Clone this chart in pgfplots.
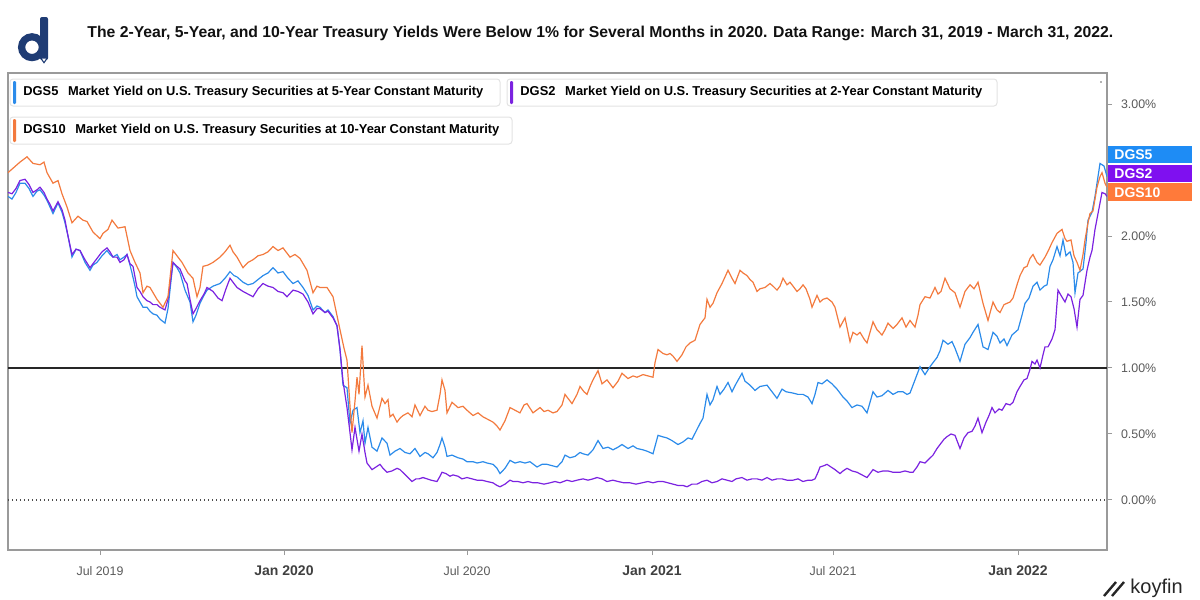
\documentclass[border=0pt]{standalone}
\usepackage{pgfplots}
\pgfplotsset{compat=1.18}
\usepackage{fontspec}
\setmainfont{Liberation Sans}
\usepackage{graphicx}

\definecolor{cblue}{HTML}{2B8BEA}
\definecolor{cpurple}{HTML}{7B22E0}
\definecolor{corange}{HTML}{F37A3E}
\definecolor{bblue}{HTML}{1E8CF5}
\definecolor{bpurple}{HTML}{7F10F0}
\definecolor{borange}{HTML}{FF7A3A}
\definecolor{navy}{HTML}{1F3C74}
\definecolor{axisgray}{HTML}{9A9A9A}
\definecolor{labelgray}{HTML}{5A5A5A}
\definecolor{boldgray}{HTML}{404040}
\definecolor{legendgray}{HTML}{E3E3E3}
\definecolor{titleblack}{HTML}{111111}

% x = days from 2019-03-31, y = yield in %
\pgfplotstableread{
x y
0 2.30
4 2.28
8 2.33
12 2.40
17 2.40
21 2.36
25 2.30
29 2.34
32 2.35
36 2.31
39 2.27
42 2.22
45 2.17
50 2.25
54 2.18
57 2.10
60 2.00
64 1.84
68 1.90
72 1.89
77 1.80
82 1.74
85 1.78
89 1.80
94 1.85
99 1.89
102 1.86
105 1.84
109 1.86
112 1.82
116 1.84
119 1.86
122 1.78
124 1.72
127 1.62
129 1.54
132 1.50
135 1.46
139 1.46
142 1.43
145 1.41
149 1.40
152 1.37
157 1.34
160 1.45
165 1.80
169 1.76
172 1.72
177 1.59
182 1.50
185 1.35
188 1.40
192 1.49
196 1.55
199 1.59
205 1.62
212 1.64
217 1.68
222 1.73
226 1.70
229 1.69
235 1.65
240 1.63
245 1.64
250 1.67
255 1.70
260 1.72
265 1.76
270 1.72
275 1.73
280 1.68
285 1.64
290 1.66
295 1.61
300 1.55
305 1.44
309 1.47
312 1.46
317 1.42
320 1.44
325 1.39
329 1.32
332 1.14
335 0.87
339 0.85
342 0.58
345 0.68
349 0.70
352 0.51
355 0.60
357 0.43
360 0.55
364 0.40
369 0.37
374 0.47
379 0.43
382 0.34
387 0.37
392 0.39
397 0.36
402 0.35
407 0.39
412 0.33
417 0.36
420 0.35
425 0.32
429 0.36
432 0.42
434 0.47
437 0.40
439 0.33
444 0.34
450 0.32
455 0.31
459 0.29
465 0.29
469 0.28
475 0.29
479 0.28
485 0.27
489 0.24
492 0.20
497 0.24
502 0.30
507 0.28
512 0.29
517 0.28
522 0.29
529 0.25
534 0.27
539 0.27
544 0.26
549 0.25
554 0.29
557 0.34
562 0.32
567 0.33
572 0.36
575 0.35
580 0.34
585 0.38
590 0.45
595 0.39
600 0.40
605 0.38
610 0.40
614 0.42
620 0.39
625 0.41
629 0.39
635 0.38
639 0.37
645 0.35
650 0.49
654 0.48
659 0.47
664 0.45
670 0.42
675 0.44
680 0.47
684 0.46
688 0.52
692 0.58
695 0.62
699 0.80
702 0.72
705 0.76
709 0.86
712 0.80
716 0.84
720 0.89
724 0.82
728 0.88
734 0.96
737 0.90
742 0.87
747 0.83
752 0.86
759 0.87
764 0.82
769 0.77
774 0.84
778 0.82
785 0.81
790 0.80
795 0.80
800 0.78
804 0.73
807 0.80
810 0.89
814 0.88
819 0.91
824 0.88
829 0.84
835 0.78
839 0.75
844 0.70
849 0.72
854 0.71
859 0.66
862 0.74
865 0.82
869 0.78
874 0.79
880 0.83
885 0.80
890 0.82
895 0.82
899 0.80
902 0.81
907 0.91
912 1.01
917 0.95
922 1.01
929 1.08
932 1.13
935 1.21
940 1.18
944 1.20
947 1.15
952 1.05
957 1.18
962 1.23
965 1.27
970 1.33
975 1.16
980 1.14
985 1.27
989 1.24
992 1.19
996 1.22
999 1.17
1004 1.25
1010 1.29
1014 1.40
1017 1.49
1021 1.53
1025 1.62
1029 1.65
1032 1.59
1036 1.62
1039 1.63
1042 1.77
1045 1.82
1049 1.92
1052 1.85
1055 1.97
1058 1.85
1062 1.88
1065 1.80
1067 1.57
1070 1.72
1075 1.75
1078 1.95
1080 2.12
1084 2.18
1087 2.30
1090 2.45
1092 2.55
1096 2.53
1099 2.45
}\dgsfive

\pgfplotstableread{
x y
0 2.33
4 2.32
8 2.36
12 2.42
17 2.43
21 2.39
25 2.33
29 2.35
32 2.37
36 2.33
39 2.28
42 2.24
45 2.19
50 2.26
54 2.20
57 2.12
60 2.00
64 1.86
68 1.90
72 1.89
77 1.82
82 1.76
85 1.79
89 1.83
94 1.88
99 1.91
102 1.88
105 1.84
109 1.84
112 1.80
116 1.82
119 1.86
122 1.79
125 1.77
129 1.61
132 1.58
135 1.54
139 1.51
142 1.50
145 1.48
149 1.48
152 1.46
157 1.44
160 1.52
165 1.80
169 1.77
172 1.75
177 1.66
179 1.64
182 1.52
185 1.41
188 1.45
192 1.51
196 1.56
199 1.61
205 1.58
210 1.53
214 1.51
218 1.60
222 1.68
226 1.64
229 1.61
235 1.58
240 1.56
245 1.54
250 1.60
255 1.64
260 1.62
265 1.61
270 1.58
275 1.57
279 1.54
285 1.59
290 1.58
295 1.56
300 1.50
305 1.41
309 1.45
312 1.45
317 1.42
320 1.43
325 1.38
329 1.32
332 1.14
335 0.90
339 0.70
342 0.51
344 0.38
347 0.55
351 0.37
354 0.50
357 0.36
359 0.28
364 0.23
368 0.25
372 0.27
375 0.24
379 0.21
384 0.22
389 0.24
392 0.23
396 0.20
400 0.17
404 0.14
408 0.16
411 0.16
415 0.17
419 0.16
423 0.15
429 0.14
432 0.18
434 0.21
438 0.20
442 0.18
445 0.19
450 0.18
454 0.16
459 0.17
464 0.16
469 0.15
474 0.15
479 0.14
485 0.13
489 0.11
492 0.10
497 0.12
502 0.15
505 0.14
510 0.14
515 0.13
520 0.14
525 0.13
530 0.13
536 0.12
542 0.13
547 0.14
552 0.13
559 0.15
564 0.14
569 0.15
575 0.16
580 0.15
585 0.16
589 0.17
594 0.16
599 0.14
605 0.15
610 0.14
616 0.13
622 0.13
628 0.12
634 0.13
640 0.14
645 0.13
650 0.14
655 0.14
660 0.13
665 0.12
670 0.11
675 0.11
679 0.10
684 0.12
689 0.12
694 0.14
699 0.15
704 0.13
709 0.14
714 0.16
719 0.15
724 0.14
728 0.16
734 0.17
739 0.15
744 0.16
749 0.16
754 0.15
759 0.17
764 0.15
769 0.16
774 0.16
779 0.15
785 0.15
790 0.16
795 0.14
800 0.15
804 0.15
807 0.16
810 0.21
812 0.25
816 0.26
819 0.27
823 0.25
827 0.23
832 0.20
835 0.22
839 0.24
844 0.22
849 0.21
854 0.19
859 0.17
862 0.20
865 0.23
870 0.21
875 0.22
880 0.22
885 0.21
892 0.21
897 0.22
902 0.21
905 0.21
909 0.25
912 0.29
917 0.28
921 0.31
925 0.34
929 0.39
932 0.42
936 0.46
939 0.48
943 0.50
947 0.49
952 0.39
956 0.47
960 0.51
964 0.52
967 0.56
970 0.62
974 0.51
978 0.59
981 0.64
984 0.70
987 0.66
991 0.69
994 0.68
998 0.73
1002 0.72
1005 0.74
1009 0.82
1012 0.86
1016 0.91
1019 0.92
1022 0.99
1024 1.05
1027 1.03
1029 1.06
1032 1.00
1035 1.10
1037 1.16
1040 1.16
1044 1.22
1047 1.29
1050 1.59
1053 1.55
1057 1.50
1060 1.56
1063 1.54
1066 1.45
1069 1.31
1072 1.52
1075 1.55
1079 1.74
1082 1.84
1084 1.89
1087 2.05
1090 2.17
1094 2.33
1097 2.32
1099 2.30
}\dgstwo

\pgfplotstableread{
x y
0 2.48
6 2.52
12 2.56
19 2.60
25 2.55
32 2.54
36 2.56
39 2.48
45 2.40
50 2.42
54 2.32
59 2.22
64 2.10
70 2.15
75 2.12
79 2.11
85 2.03
92 1.98
95 2.02
100 2.05
104 2.12
110 2.06
117 2.07
122 1.89
127 1.80
132 1.72
135 1.57
139 1.62
142 1.61
149 1.52
155 1.46
160 1.54
165 1.89
170 1.84
174 1.80
180 1.72
185 1.68
189 1.54
192 1.61
195 1.77
200 1.78
205 1.80
212 1.84
217 1.88
222 1.93
225 1.88
229 1.84
235 1.76
240 1.80
245 1.82
250 1.85
255 1.86
260 1.88
265 1.92
270 1.89
275 1.91
282 1.84
287 1.86
292 1.83
299 1.74
305 1.57
309 1.62
312 1.61
319 1.61
325 1.54
332 1.29
336 1.15
339 1.06
342 0.71
344 0.51
347 0.75
349 0.93
351 0.80
354 1.17
357 0.78
360 0.87
364 0.71
369 0.62
374 0.77
377 0.73
380 0.76
382 0.63
385 0.65
389 0.59
392 0.62
395 0.64
400 0.66
404 0.63
407 0.72
412 0.64
417 0.71
420 0.68
424 0.67
429 0.68
432 0.80
434 0.91
437 0.83
439 0.66
444 0.74
450 0.70
455 0.71
459 0.68
465 0.64
470 0.66
475 0.63
480 0.61
485 0.59
489 0.56
492 0.53
497 0.60
502 0.70
507 0.68
512 0.66
516 0.72
519 0.73
525 0.66
532 0.70
536 0.67
540 0.68
545 0.66
549 0.67
554 0.72
557 0.80
561 0.76
564 0.73
569 0.80
572 0.86
576 0.82
579 0.80
582 0.86
585 0.91
590 0.98
594 0.88
599 0.91
605 0.85
610 0.90
614 0.96
620 0.92
625 0.94
629 0.93
635 0.95
640 0.94
645 0.93
647 1.04
650 1.14
655 1.11
659 1.10
662 1.11
665 1.09
669 1.05
674 1.10
678 1.16
682 1.19
687 1.21
692 1.33
695 1.36
697 1.38
699 1.52
702 1.46
705 1.49
709 1.57
714 1.64
717 1.69
720 1.74
724 1.68
727 1.64
732 1.74
735 1.72
739 1.70
742 1.67
745 1.65
749 1.58
752 1.60
757 1.61
762 1.64
765 1.62
769 1.59
772 1.62
775 1.68
779 1.63
782 1.65
789 1.58
792 1.60
795 1.63
798 1.60
802 1.52
804 1.46
809 1.55
812 1.50
815 1.52
819 1.53
824 1.50
827 1.46
832 1.31
837 1.38
842 1.20
845 1.27
849 1.25
852 1.27
856 1.22
859 1.19
862 1.27
865 1.35
869 1.29
874 1.25
877 1.29
880 1.34
885 1.30
889 1.33
894 1.38
898 1.31
902 1.36
907 1.31
910 1.40
912 1.48
917 1.54
922 1.53
927 1.61
930 1.56
933 1.58
937 1.68
942 1.60
947 1.57
952 1.46
957 1.58
962 1.63
966 1.60
970 1.65
975 1.49
980 1.36
985 1.50
989 1.44
992 1.42
996 1.48
999 1.49
1002 1.50
1005 1.53
1009 1.63
1012 1.70
1016 1.76
1019 1.77
1022 1.83
1025 1.86
1029 1.80
1032 1.78
1037 1.84
1041 1.90
1044 1.95
1049 2.02
1054 2.05
1057 1.98
1059 1.96
1063 1.97
1066 1.85
1069 1.80
1072 1.74
1075 1.86
1077 1.97
1080 2.10
1082 2.17
1085 2.19
1089 2.37
1092 2.45
1094 2.48
1097 2.40
1099 2.37
}\dgsten

\begin{document}
\begin{tikzpicture}
\path[use as bounding box] (0pt,0pt) rectangle (600pt,-300pt);

% logo
\draw[navy, line width=3.6pt] (16pt,-23.6pt) circle (5.2pt);
\fill[navy, rounded corners=1pt] (20pt,-8.5pt) rectangle (24pt,-30pt);
\fill[navy] (20pt,-29pt) -- (24pt,-29pt) -- (22pt,-31.8pt) -- cycle;
\fill[white] (21pt,-29.3pt) -- (23pt,-29.3pt) -- (22pt,-30.8pt) -- cycle;

% title
\node[anchor=west, inner sep=0pt, text=titleblack] at (43.5pt,-16.5pt)
  {\resizebox{513pt}{!}{\bfseries The 2-Year, 5-Year, and 10-Year Treasury Yields Were Below 1\% for Several Months in 2020. Data Range: March 31, 2019 - March 31, 2022.}};

\begin{axis}[
  at={(4pt,-275pt)}, anchor=south west,
  scale only axis, width=549.5pt, height=238.5pt,
  xmin=0, xmax=1099, ymin=-0.379, ymax=3.235,
  axis line style={draw=axisgray, line width=0.75pt},
  xtick={92,276,459,644,825,1010},
  xticklabels={Jul 2019,{\fontsize{7}{8}\selectfont\bfseries\color{boldgray}Jan 2020},Jul 2020,{\fontsize{7}{8}\selectfont\bfseries\color{boldgray}Jan 2021},Jul 2021,{\fontsize{7}{8}\selectfont\bfseries\color{boldgray}Jan 2022}},
  ytick={0,0.5,1,1.5,2,3},
  yticklabel pos=right,
  yticklabel={\pgfmathprintnumber[fixed,fixed zerofill,precision=2]{\tick}\%},
  /pgf/number format/assume math mode=true,
  xtick pos=left, ytick pos=right,
  tick align=outside,
  major tick length=2.5pt,
  tick style={draw=axisgray, line width=0.5pt},
  ticklabel style={font=\fontsize{6.2}{7}\selectfont, text=labelgray},
  xticklabel style={yshift=-2pt},
  yticklabel style={xshift=1pt},
  every axis plot/.append style={line width=0.6pt, mark=none},
]
\addplot[black!85, line width=1pt] coordinates {(0,1) (1099,1)};
\addplot[black!70, line width=0.6pt, dash pattern=on 0.6pt off 1.4pt] coordinates {(0,0) (1099,0)};
\addplot[cblue] table[x=x, y=y] {\dgsfive};
\addplot[cpurple] table[x=x, y=y] {\dgstwo};
\addplot[corange] table[x=x, y=y] {\dgsten};
\end{axis}

% small mark at the top right of the frame
\fill[black!60] (550.5pt,-41pt) circle (0.45pt);

% legend entries
\draw[legendgray, fill=white, rounded corners=1.5pt, line width=0.5pt] (5pt,-39.5pt) rectangle (250pt,-53pt);
\fill[cblue, rounded corners=0.6pt] (6.5pt,-40.5pt) rectangle (8pt,-52pt);
\node[anchor=west, inner sep=0pt] at (11.5pt,-46.25pt)
  {\resizebox{230pt}{!}{\bfseries DGS5\hspace{0.75em}Market Yield on U.S. Treasury Securities at 5-Year Constant Maturity}};

\draw[legendgray, fill=white, rounded corners=1.5pt, line width=0.5pt] (253.5pt,-39.5pt) rectangle (498.5pt,-53pt);
\fill[cpurple, rounded corners=0.6pt] (255pt,-40.5pt) rectangle (256.5pt,-52pt);
\node[anchor=west, inner sep=0pt] at (260pt,-46.25pt)
  {\resizebox{231pt}{!}{\bfseries DGS2\hspace{0.75em}Market Yield on U.S. Treasury Securities at 2-Year Constant Maturity}};

\draw[legendgray, fill=white, rounded corners=1.5pt, line width=0.5pt] (5pt,-58.5pt) rectangle (256pt,-72pt);
\fill[corange, rounded corners=0.6pt] (6.5pt,-59.5pt) rectangle (8pt,-71pt);
\node[anchor=west, inner sep=0pt] at (11.5pt,-65.25pt)
  {\resizebox{238pt}{!}{\bfseries DGS10\hspace{0.75em}Market Yield on U.S. Treasury Securities at 10-Year Constant Maturity}};

% last-value labels on the right
\fill[bblue] (554pt,-73pt) rectangle (596pt,-81.6pt);
\fill[bpurple] (554pt,-82.3pt) rectangle (596pt,-91pt);
\fill[borange] (554pt,-91.7pt) rectangle (596pt,-100.5pt);
\node[anchor=west, inner sep=0pt, text=white, font=\fontsize{7}{8}\selectfont\bfseries] at (557pt,-77.3pt) {DGS5};
\node[anchor=west, inner sep=0pt, text=white, font=\fontsize{7}{8}\selectfont\bfseries] at (557pt,-86.6pt) {DGS2};
\node[anchor=west, inner sep=0pt, text=white, font=\fontsize{7}{8}\selectfont\bfseries] at (557pt,-96.1pt) {DGS10};

% koyfin mark at the bottom right
\draw[black!85, line width=1.2pt] (552pt,-298pt) -- (558pt,-291pt);
\draw[black!85, line width=1.2pt] (556pt,-298pt) -- (562pt,-291pt);
\node[anchor=base west, inner sep=0pt, text=black!85, font=\fontsize{10}{10}\selectfont] at (565pt,-296.8pt) {koyfin};
\end{tikzpicture}
\end{document}
